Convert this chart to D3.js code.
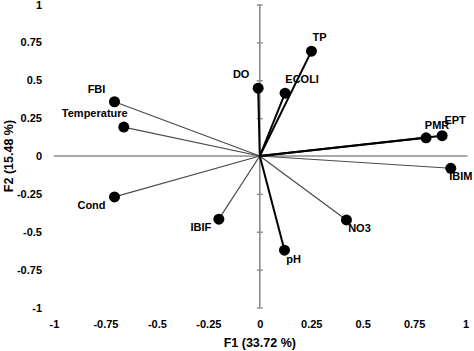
<!DOCTYPE html>
<html>
<head>
<meta charset="utf-8">
<script src="https://cdn.jsdelivr.net/npm/d3@7"></script>
<style>
  body { margin: 0; background: #fff; }
  svg text { font-family: "Liberation Sans", Arial, sans-serif; font-weight: bold; fill: #000; }
</style>
</head>
<body>
<svg id="pca" width="474" height="351"></svg>
<script>
// variable names and loadings on F1 / F2
const variables = ['FBI', 'Temperature', 'Cond', 'IBIF', 'pH', 'NO3', 'IBIM', 'PMR', 'EPT', 'DO', 'ECOLI', 'TP'];
const f1 = [-0.706, -0.661, -0.706, -0.199, 0.120, 0.421, 0.928, 0.808, 0.886, -0.008, 0.123, 0.251];
const f2 = [0.358, 0.191, -0.270, -0.417, -0.622, -0.422, -0.081, 0.120, 0.134, 0.448, 0.415, 0.692];
const tickVals = [-1, -0.75, -0.5, -0.25, 0, 0.25, 0.5, 0.75, 1];
const xTitle = 'F1 (33.72 %)';
const yTitle = 'F2 (15.48 %)';

// label placement relative to the point (anchor middle)
const labelOffset = {
  FBI: [-18, -9], Temperature: [-29, -10], Cond: [-23, 12], IBIF: [-18, 12],
  pH: [9, 13], NO3: [13, 12], IBIM: [10, 12], PMR: [11, -9], EPT: [13, -12],
  DO: [-17, -10], ECOLI: [17, -10], TP: [8, -10]
};
const strong = new Set(['DO', 'ECOLI', 'TP', 'PMR', 'EPT', 'pH']);

function drawLoadings() {
  const svg = d3.select('#pca');
  svg.selectAll('*').remove();

  const x = d3.scaleLinear().domain([-1, 1]).range([54, 465.6]);
  const y = d3.scaleLinear().domain([-1, 1]).range([307.5, 4.5]);
  const x0 = x(0), y0 = y(0);
  const axisColor = '#8c8c8c';

  // horizontal axis line through 0
  svg.append('line')
    .attr('x1', x(-1)).attr('x2', x(1) + 2)
    .attr('y1', y0).attr('y2', y0)
    .attr('stroke', axisColor).attr('stroke-width', 1.6);

  // vertical axis line through 0 with crossing ticks
  svg.append('line')
    .attr('x1', x0).attr('x2', x0)
    .attr('y1', y(1)).attr('y2', y(-1))
    .attr('stroke', axisColor).attr('stroke-width', 1.6);

  svg.append('g')
    .attr('transform', `translate(${x0 - 3},0)`)
    .call(d3.axisLeft(y).tickValues(tickVals).tickSize(-6).tickFormat(''))
    .call(g => g.select('.domain').remove())
    .call(g => g.selectAll('line').attr('stroke', axisColor).attr('stroke-width', 1.4));

  // tick labels at the frame edges
  const fmt = d => String(d);
  svg.append('g')
    .attr('transform', 'translate(44,0)')
    .call(d3.axisLeft(y).tickValues(tickVals).tickSize(0).tickPadding(2).tickFormat(fmt))
    .call(g => g.select('.domain').remove())
    .call(g => g.selectAll('text').attr('font-size', 11).attr('font-family', null).attr('fill', '#000'));

  svg.append('g')
    .attr('transform', 'translate(0,318)')
    .call(d3.axisBottom(x).tickValues(tickVals).tickSize(0).tickPadding(2).tickFormat(fmt))
    .call(g => g.select('.domain').remove())
    .call(g => g.selectAll('text').attr('font-size', 11).attr('font-family', null).attr('fill', '#000'));

  // axis titles
  svg.append('text')
    .attr('x', x0).attr('y', 347)
    .attr('text-anchor', 'middle')
    .attr('font-size', 12.5)
    .text(xTitle);

  svg.append('text')
    .attr('transform', `translate(13,${y0}) rotate(-90)`)
    .attr('text-anchor', 'middle')
    .attr('font-size', 12.5)
    .text(yTitle);

  const pts = variables.map((v, i) => ({ name: v, f1: f1[i], f2: f2[i] }));

  // vectors from origin
  svg.selectAll('.vec')
    .data(pts).enter().append('line')
      .attr('class', 'vec')
      .attr('x1', x0).attr('y1', y0)
      .attr('x2', d => x(d.f1)).attr('y2', d => y(d.f2))
      .attr('stroke', d => strong.has(d.name) ? '#000' : '#4a4a4a')
      .attr('stroke-width', d => strong.has(d.name) ? 2 : 1.2);

  svg.selectAll('.pt')
    .data(pts).enter().append('circle')
      .attr('class', 'pt')
      .attr('cx', d => x(d.f1)).attr('cy', d => y(d.f2))
      .attr('r', 5.5)
      .attr('fill', '#000');

  svg.selectAll('.lbl')
    .data(pts).enter().append('text')
      .attr('class', 'lbl')
      .attr('x', d => x(d.f1) + labelOffset[d.name][0])
      .attr('y', d => y(d.f2) + labelOffset[d.name][1])
      .attr('text-anchor', 'middle')
      .attr('font-size', 11)
      .text(d => d.name);
}

drawLoadings();
</script>
</body>
</html>
